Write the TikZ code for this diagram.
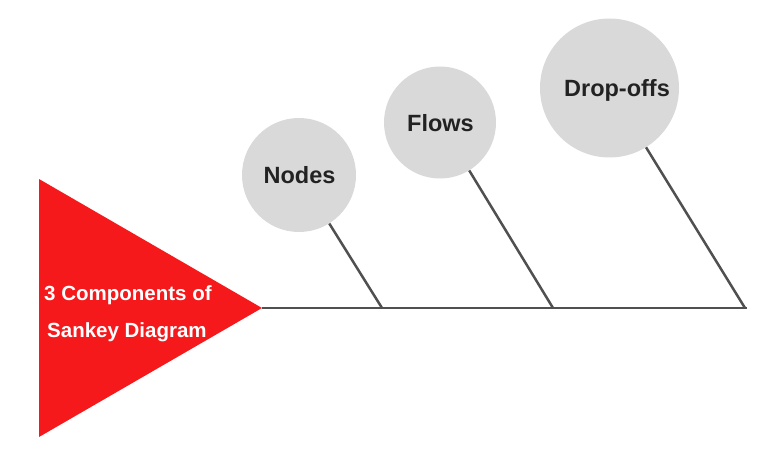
\documentclass[tikz,border=0pt]{standalone}
\usepackage{fontspec}
\setmainfont{Liberation Sans}
\definecolor{tri}{HTML}{F5191C}
\definecolor{bub}{HTML}{D9D9D9}
\definecolor{ink}{HTML}{222222}
\definecolor{stem}{HTML}{505050}
\begin{document}
\begin{tikzpicture}[x=1pt,y=-1pt,
  bubble/.style={circle,fill=bub,draw=none,inner sep=0pt,text=ink},
  bubtext/.style={font=\bfseries\fontsize{23.5}{26}\selectfont,text=ink,inner sep=0pt},
  stemline/.style={draw=stem,line width=2.5pt},
  title/.style={font=\bfseries\fontsize{20.5}{37}\selectfont,text=white,align=left,anchor=west,inner sep=0pt}]
\useasboundingbox (0,0) rectangle (770,473);
% triangle
\coordinate (ta) at (39,179);
\coordinate (tb) at (39,437);
\coordinate (tip) at (262,308);
\fill[tri] (ta) -- (tip) -- (tb) -- cycle;
\node[title] (t1) at (44,295) {3 Components of};
\node[title] (t2) at (47,332) {Sankey Diagram};
% spine
\coordinate (j1) at (382,308);
\coordinate (j2) at (553,308);
\coordinate (j3) at (745,308);
\coordinate (e) at (747,308);
\draw[stemline] (tip) -- (e);
% bubbles
\node[bubble,minimum size=114pt] (n1) at (299,175) {};
\node[bubble,minimum size=112pt] (n2) at (440,122.5) {};
\node[bubble,minimum size=139pt] (n3) at (609.5,88) {};
\node[bubtext] (l1) at (299.5,175) {Nodes};
\node[bubtext] (l2) at (440.5,123.5) {Flows};
\node[bubtext] (l3) at (617,90) {Drop-offs};
\draw[stemline] (j1) -- (n1);
\draw[stemline] (j2) -- (n2);
\draw[stemline] (j3) -- (n3);
\end{tikzpicture}
\end{document}
